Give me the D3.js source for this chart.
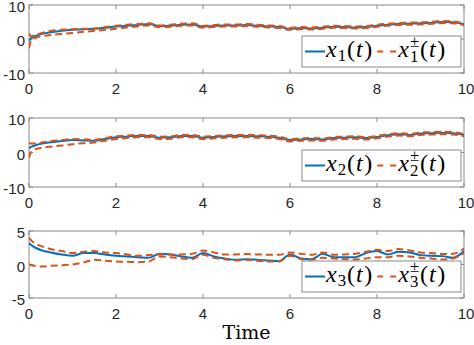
<!DOCTYPE html>
<html><head><meta charset="utf-8">
<script src="https://cdn.jsdelivr.net/npm/d3@7"></script>
<style>html,body{margin:0;padding:0;background:#fff;}svg{display:block;}</style>
</head><body>
<svg id="chart" width="474" height="345"></svg>
<script>
// ---- data ----
const T = [0,0.05,0.15,0.3,0.5,0.75,1.0,1.25,1.5,1.75,2.0,2.25,2.5,2.75,3.0,3.25,3.5,3.75,4.0,4.25,4.5,4.75,5.0,5.25,5.5,5.75,6.0,6.25,6.5,6.75,7.0,7.25,7.5,7.75,8.0,8.25,8.5,8.75,9.0,9.25,9.5,9.75,10.0];

const x1      = [-0.5,0.2,0.9,1.5,2.0,2.4,2.7,2.9,3.0,3.3,3.7,3.9,4.1,4.4,3.8,3.9,4.2,4.3,3.6,3.8,4.0,4.0,4.1,3.9,3.7,3.5,3.0,3.2,3.1,3.3,3.6,3.5,3.4,3.5,3.9,4.2,4.4,4.5,4.6,4.8,5.0,4.9,4.3];
const x1Upper = [1.7,0.8,1.2,1.8,2.4,2.7,2.9,3.0,3.1,3.5,3.9,4.2,4.4,4.6,4.0,4.2,4.5,4.6,3.9,4.1,4.3,4.3,4.4,4.2,4.0,3.8,3.3,3.5,3.4,3.6,3.9,3.8,3.7,3.8,4.2,4.5,4.7,4.8,4.9,5.1,5.3,5.2,4.6];
const x1Lower = [-2.7,-0.5,0.3,0.8,1.2,1.5,1.8,2.1,2.4,2.7,3.0,3.4,3.7,4.0,3.5,3.6,3.9,4.0,3.3,3.5,3.7,3.7,3.8,3.6,3.4,3.2,2.7,2.9,2.8,3.0,3.3,3.2,3.1,3.2,3.6,3.9,4.1,4.2,4.3,4.5,4.7,4.6,4.0];

const x2      = [1.2,1.6,2.1,2.6,3.0,3.3,3.6,3.5,3.4,3.9,4.4,4.6,4.8,4.8,4.3,4.4,4.8,4.8,4.3,4.5,4.7,4.8,4.8,4.7,4.6,4.3,3.6,3.8,3.9,3.8,4.2,4.3,4.4,4.2,4.5,5.0,5.3,5.1,5.5,5.6,5.7,5.6,5.1];
const x2Upper = [2.8,2.6,2.6,2.9,3.3,3.6,3.9,3.8,3.7,4.2,4.7,4.9,5.1,5.1,4.6,4.7,5.1,5.1,4.6,4.8,5.0,5.1,5.1,5.0,4.9,4.6,3.9,4.1,4.2,4.1,4.5,4.6,4.7,4.5,4.8,5.3,5.6,5.4,5.8,5.9,6.0,5.9,5.4];
const x2Lower = [-1.6,0.2,1.0,1.4,1.7,2.0,2.4,2.7,2.9,3.4,3.9,4.2,4.4,4.4,3.9,4.0,4.4,4.4,3.9,4.1,4.3,4.4,4.4,4.3,4.2,3.9,3.2,3.4,3.5,3.4,3.8,3.9,4.0,3.8,4.1,4.6,4.9,4.7,5.1,5.2,5.3,5.2,4.7];

const x3      = [3.2,2.9,2.5,2.1,1.8,1.5,1.3,1.7,1.7,1.5,1.3,1.2,1.1,1.0,1.6,1.5,1.2,1.0,1.7,1.2,0.9,0.7,0.8,0.7,0.6,0.5,1.5,0.9,0.8,1.6,1.1,1.1,1.1,1.7,2.0,1.5,1.9,1.8,1.4,1.3,1.25,1.0,2.0];
const x3Upper = [4.0,3.6,3.1,2.7,2.3,2.0,1.7,1.9,2.0,1.8,1.7,1.5,1.3,1.4,1.5,1.5,1.5,1.6,2.1,1.8,1.5,1.5,1.55,1.5,1.45,1.45,1.8,1.6,1.45,1.8,1.45,1.5,1.6,1.9,2.2,2.0,2.3,2.1,1.8,1.7,1.55,1.6,2.4];
const x3Lower = [0.05,-0.1,-0.2,-0.3,-0.2,-0.1,0.0,0.3,0.7,0.55,0.45,0.4,0.35,0.45,1.2,1.1,0.9,0.8,1.45,1.0,0.8,0.6,0.7,0.55,0.45,0.45,1.3,0.8,0.7,1.0,0.9,0.8,0.75,0.9,1.1,1.1,1.3,1.2,1.0,0.9,0.75,0.9,1.7];

const xTicks = [0,2,4,6,8,10];
const yTicksA = [-10,0,10];
const yTicksB = [-5,0,5];
const xLabel = "Time";

// ---- layout ----
const BLUE = "#0072BD", ORANGE = "#D95319", AX = "#8a8a8a", TXT = "#262626";
const MATH = "'Liberation Serif', 'Times New Roman', serif";
const left = 29, right = 464;
const panels = [
  {top: 5,   h: 68, dom: [-10,10], ticks: yTicksA, mid: x1, up: x1Upper, lo: x1Lower, idx: "1"},
  {top: 118, h: 69, dom: [-10,10], ticks: yTicksA, mid: x2, up: x2Upper, lo: x2Lower, idx: "2"},
  {top: 231, h: 67, dom: [-5,5],   ticks: yTicksB, mid: x3, up: x3Upper, lo: x3Lower, idx: "3"}
];

const svg = d3.select("#chart");
const x = d3.scaleLinear().domain([0,10]).range([left,right]);

function drawMath(g, x0, base, pieces, fs) {
  let cx = x0;
  pieces.forEach(p => {
    const size = fs * (p.small ? 0.7 : 1);
    const t = g.append("text").attr("x", cx).attr("y", base + (p.dy||0))
      .attr("font-family", MATH).attr("font-size", size)
      .attr("font-style", p.it ? "italic" : "normal").attr("fill", "#000").text(p.s);
    let w = t.node().getComputedTextLength();
    if (p.stack) {
      const t2 = g.append("text").attr("x", cx).attr("y", base + p.stack.dy)
        .attr("font-family", MATH).attr("font-size", size)
        .attr("fill", "#000").text(p.stack.s);
      w = Math.max(w, t2.node().getComputedTextLength());
    }
    cx += w + (p.gap || 0);
  });
  return cx;
}

panels.forEach(p => {
  const y = d3.scaleLinear().domain(p.dom).range([p.top + p.h, p.top]);
  const g = svg.append("g");
  const clipId = "clip" + p.idx;
  svg.append("clipPath").attr("id", clipId).append("rect")
    .attr("x", left).attr("y", p.top).attr("width", right-left).attr("height", p.h);

  // axes box
  g.append("rect").attr("x", left).attr("y", p.top).attr("width", right-left).attr("height", p.h)
    .attr("fill", "none").attr("stroke", AX).attr("stroke-width", 1);

  // ticks (inward, mirrored)
  xTicks.forEach(v => {
    g.append("line").attr("x1", x(v)).attr("x2", x(v)).attr("y1", p.top+p.h).attr("y2", p.top+p.h-4).attr("stroke", AX);
    g.append("line").attr("x1", x(v)).attr("x2", x(v)).attr("y1", p.top).attr("y2", p.top+4).attr("stroke", AX);
    g.append("text").attr("x", x(v) + (v === 10 ? 2 : 0)).attr("y", p.top+p.h+21).attr("text-anchor","middle")
      .attr("font-family","'Liberation Sans', Arial, sans-serif").attr("font-size",15).attr("fill",TXT).text(v);
  });
  p.ticks.forEach(v => {
    g.append("line").attr("x1", left).attr("x2", left+4).attr("y1", y(v)).attr("y2", y(v)).attr("stroke", AX);
    g.append("line").attr("x1", right).attr("x2", right-4).attr("y1", y(v)).attr("y2", y(v)).attr("stroke", AX);
    g.append("text").attr("x", left-4).attr("y", y(v)+7).attr("text-anchor","end")
      .attr("font-family","'Liberation Sans', Arial, sans-serif").attr("font-size",15).attr("fill",TXT).text(v);
  });

  const line = arr => d3.line().x((d,i)=>x(T[i])).y(d=>y(d)).curve(d3.curveMonotoneX)(arr);
  const lg = g.append("g").attr("clip-path", `url(#${clipId})`);
  lg.append("path").attr("d", line(p.mid)).attr("fill","none").attr("stroke",BLUE).attr("stroke-width",2);
  [p.up, p.lo].forEach(arr => {
    lg.append("path").attr("d", line(arr)).attr("fill","none").attr("stroke",ORANGE)
      .attr("stroke-width",2).attr("stroke-dasharray","7,4");
  });

  // legend
  const bx0 = 302, bx1 = 461, by1 = p.top + p.h - 6, by0 = by1 - 31;
  g.append("rect").attr("x", bx0).attr("y", by0).attr("width", bx1-bx0).attr("height", by1-by0)
    .attr("fill","#fff").attr("stroke", AX).attr("stroke-width",1);
  const cy = (by0+by1)/2;
  const base = cy + 5;
  g.append("line").attr("x1", 305).attr("x2", 325).attr("y1", cy).attr("y2", cy).attr("stroke",BLUE).attr("stroke-width",2);
  let ex = drawMath(g, 326, base, [
    {s:"x", it:true, gap:1},
    {s:p.idx, small:true, dy:4, gap:1},
    {s:"(", gap:1},
    {s:"t", it:true, gap:1.5},
    {s:")"}
  ], 24);
  const ox = ex + 5;
  g.append("line").attr("x1", ox).attr("x2", ox+20).attr("y1", cy).attr("y2", cy)
    .attr("stroke",ORANGE).attr("stroke-width",2).attr("stroke-dasharray","6,7");
  drawMath(g, ox + 21, base, [
    {s:"x", it:true, gap:1},
    {s:"\u00B1", small:true, dy:-10, stack:{s:p.idx, dy:5}, gap:1},
    {s:"(", gap:1},
    {s:"t", it:true, gap:1.5},
    {s:")"}
  ], 24);
});

svg.append("text").attr("x", 246.5).attr("y", 339).attr("text-anchor","middle")
  .attr("font-family","'DejaVu Serif', serif").attr("font-size",19).attr("fill","#000").text(xLabel);
</script>
</body></html>
